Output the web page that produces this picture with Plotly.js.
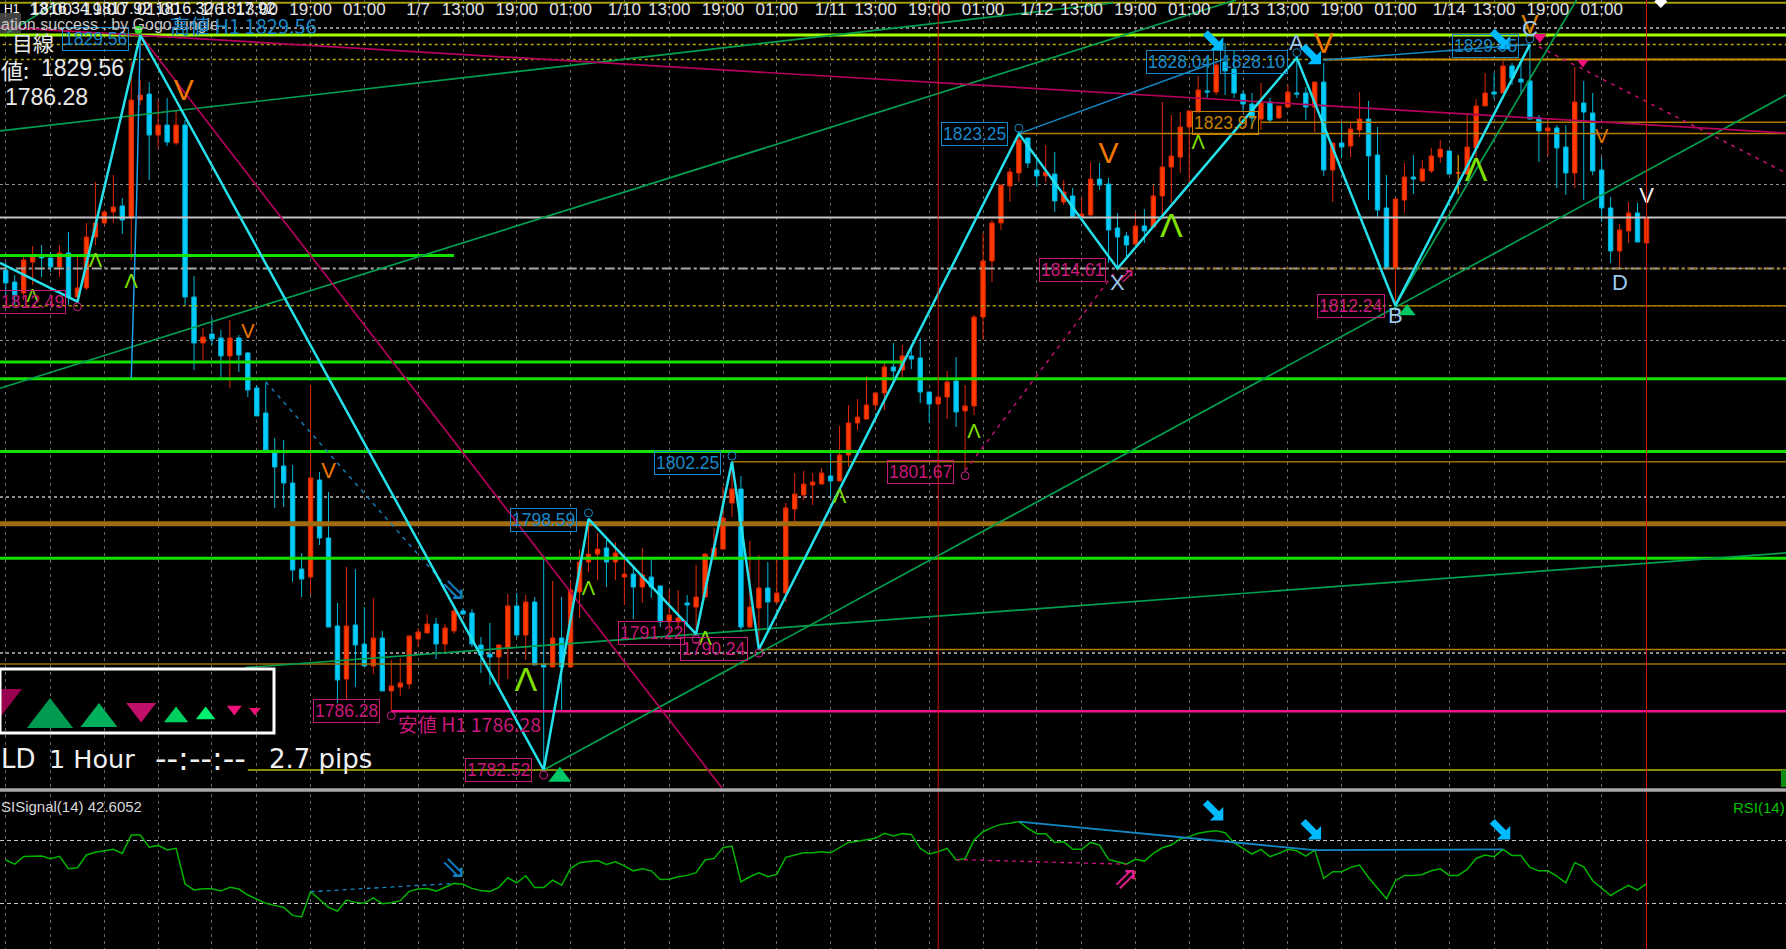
<!DOCTYPE html>
<html><head><meta charset="utf-8">
<script src="https://cdn.plot.ly/plotly-3.0.1.min.js"></script>
<style>html,body{margin:0;padding:0;background:#000;overflow:hidden}#c{width:1786px;height:949px}</style>
</head><body><div id="c"></div>
<script>
// ---------- candles (XAUUSD-style H1, index = bar number) ----------
const opens=[1814.52,1813.75,1813.05,1815.03,1815.42,1815.29,1814.71,1815.61,1812.79,1813.37,
1816.63,1817.53,1818.23,1818.62,1817.85,1825.4,1825.78,1823.16,1823.8,1822.65,
1823.8,1812.79,1809.85,1810.42,1810.17,1809.02,1810.17,1809.21,1806.97,1805.37,
1802.87,1801.98,1800.89,1795.38,1794.87,1801.08,1797.37,1791.74,1788.34,1791.8,
1790.58,1789.18,1790.97,1787.58,1787.83,1788.02,1790.9,1791.29,1791.86,1790.58,
1791.42,1792.7,1792.57,1790.52,1789.94,1789.75,1790.33,1793.02,1791.16,1793.27,
1789.3,1789.11,1790.97,1789.11,1793.91,1795.83,1796.34,1796.73,1795.83,1794.87,
1795.06,1794.23,1794.87,1794.3,1792.0,1792.0,1793.21,1792.95,1793.59,1796.15,
1796.66,1799.61,1800.5,1791.67,1792.89,1794.17,1793.27,1793.85,1799.22,1800.12,
1800.76,1800.82,1801.34,1801.02,1802.68,1804.73,1804.98,1805.88,1806.65,1808.31,
1808.12,1809.02,1808.89,1806.71,1805.94,1806.39,1807.42,1805.5,1805.82,1811.51,
1815.1,1817.53,1819.9,1820.73,1822.97,1820.92,1820.54,1820.66,1818.87,1819.26,
1817.91,1818.04,1820.34,1820.02,1817.21,1816.7,1816.18,1817.34,1817.27,1819.26,
1821.11,1821.75,1823.67,1824.63,1825.98,1825.91,1827.83,1827.38,1825.78,1825.14,
1824.18,1825.27,1824.25,1824.95,1825.85,1825.85,1824.95,1826.55,1820.92,1822.65,
1822.46,1823.48,1824.18,1821.88,1818.49,1814.65,1819.0,1820.47,1820.22,1820.86,
1821.75,1822.14,1820.73,1820.66,1822.33,1825.02,1825.91,1825.85,1827.58,1826.74,
1826.62,1824.25,1823.42,1823.61,1822.39,1820.73,1825.21,1824.57,1820.92,1818.49,
1815.74,1817.02,1818.17,1816.25];
const highs=[1815.03,1814.2,1815.48,1816.06,1816.12,1815.67,1816.12,1816.95,1815.48,1817.53,
1820.15,1818.36,1820.6,1819.13,1827.83,1826.68,1826.55,1825.4,1825.53,1824.7,
1824.12,1814.14,1810.81,1811.45,1810.68,1811.32,1810.36,1809.27,1807.16,1807.35,
1803.77,1803.64,1802.04,1796.41,1807.16,1801.59,1800.31,1793.21,1795.51,1795.38,
1792.95,1793.53,1791.42,1789.56,1789.69,1791.1,1791.61,1792.5,1792.25,1791.86,
1792.89,1792.89,1792.82,1791.03,1791.93,1790.58,1793.78,1793.85,1793.72,1793.59,
1796.09,1794.62,1793.59,1794.68,1796.66,1798.59,1797.69,1797.24,1797.11,1796.28,
1795.51,1796.73,1796.09,1794.3,1794.04,1794.04,1793.72,1795.64,1796.41,1798.01,
1800.63,1802.23,1801.34,1797.18,1796.28,1795.83,1795.96,1799.61,1801.53,1801.66,
1801.53,1801.85,1803.0,1804.54,1805.88,1806.26,1807.74,1806.71,1808.63,1809.85,
1809.72,1809.72,1810.17,1806.71,1806.39,1808.06,1808.95,1807.16,1811.64,1816.89,
1817.72,1819.96,1821.05,1823.29,1822.97,1821.75,1822.52,1822.07,1820.28,1819.77,
1819.19,1821.43,1821.37,1820.41,1818.17,1816.95,1818.17,1818.42,1819.96,1825.27,
1824.44,1824.63,1824.7,1826.94,1828.15,1827.83,1829.05,1828.6,1826.04,1825.85,
1826.49,1825.53,1825.02,1826.36,1828.1,1826.23,1826.55,1827.77,1822.65,1823.93,
1823.99,1825.91,1825.34,1823.67,1820.6,1819.06,1821.37,1821.88,1821.56,1822.33,
1822.84,1822.14,1821.88,1824.57,1825.46,1827.13,1827.13,1827.9,1827.77,1827.83,
1828.98,1824.44,1824.25,1823.8,1823.8,1827.51,1826.62,1825.85,1821.75,1819.19,
1817.46,1818.87,1818.81,1817.85];
const lows=[1812.92,1812.28,1812.6,1813.56,1814.07,1814.39,1814.07,1812.28,1812.6,1813.24,
1816.12,1817.4,1817.53,1816.82,1815.16,1825.08,1820.28,1822.33,1822.46,1822.52,
1812.28,1808.12,1808.7,1809.72,1807.67,1806.97,1807.99,1806.39,1805.18,1803.0,
1799.29,1799.35,1794.55,1793.59,1793.72,1796.92,1791.67,1786.81,1787.0,1787.83,
1789.18,1788.66,1787.58,1786.36,1787.26,1787.7,1790.39,1791.29,1789.62,1790.01,
1791.22,1792.44,1790.39,1788.73,1787.96,1787.83,1788.34,1790.97,1789.56,1789.24,
1782.52,1789.11,1786.36,1789.11,1792.25,1795.19,1794.68,1794.23,1794.68,1793.08,
1792.18,1793.21,1793.53,1791.67,1791.35,1791.48,1791.67,1791.35,1793.59,1796.15,
1796.6,1798.71,1791.35,1791.61,1790.24,1791.48,1793.27,1793.27,1798.33,1799.8,
1799.48,1800.82,1799.99,1801.02,1801.91,1804.28,1804.98,1805.56,1805.56,1807.35,
1807.48,1808.18,1806.01,1804.73,1805.94,1804.98,1804.47,1801.67,1805.24,1810.04,
1813.75,1817.08,1818.87,1820.15,1821.05,1819.83,1820.15,1818.23,1818.68,1817.91,
1817.91,1817.91,1819.64,1814.97,1814.65,1815.35,1816.12,1816.25,1817.27,1817.72,
1818.81,1820.73,1820.09,1824.63,1825.53,1825.72,1825.72,1825.53,1824.63,1823.67,
1823.48,1823.99,1824.18,1824.95,1825.53,1824.12,1823.35,1820.54,1818.87,1821.69,
1821.75,1823.03,1819.0,1817.85,1814.65,1812.24,1818.17,1819.38,1820.15,1820.73,
1821.37,1820.66,1819.38,1820.6,1821.69,1825.02,1825.46,1825.85,1826.36,1825.72,
1824.18,1821.43,1821.82,1819.77,1819.32,1819.77,1819.0,1820.6,1817.59,1814.97,
1814.58,1816.25,1816.31,1816.25];
const closes=[1813.69,1812.92,1815.16,1815.35,1815.29,1814.71,1815.61,1812.79,1813.37,1816.63,
1817.53,1818.23,1818.55,1817.72,1825.4,1825.72,1823.16,1823.8,1822.71,1823.8,
1812.79,1809.85,1810.23,1810.1,1809.02,1810.17,1809.08,1806.84,1805.18,1803.0,
1801.91,1800.89,1795.32,1794.74,1801.21,1797.37,1791.67,1788.28,1791.74,1790.52,
1789.18,1790.97,1787.58,1787.9,1788.09,1791.1,1791.35,1791.86,1790.58,1791.61,
1792.7,1792.5,1790.58,1789.88,1789.75,1790.52,1793.02,1791.16,1793.27,1789.24,
1789.11,1790.97,1789.11,1794.04,1795.83,1796.34,1796.66,1795.83,1796.41,1795.06,
1794.23,1795.0,1794.23,1792.0,1792.44,1792.25,1793.08,1793.59,1796.34,1796.73,
1798.65,1800.5,1791.67,1792.95,1794.17,1793.27,1793.85,1799.29,1800.18,1800.82,
1800.95,1801.53,1801.02,1802.68,1804.73,1805.11,1805.88,1806.65,1808.31,1808.06,
1809.02,1808.82,1806.71,1805.94,1806.39,1807.35,1805.43,1805.82,1811.51,1815.1,
1817.53,1819.96,1820.79,1822.84,1821.37,1820.54,1820.79,1818.94,1819.51,1817.91,
1818.1,1820.34,1819.96,1817.08,1816.63,1816.12,1817.34,1817.02,1819.26,1821.11,
1821.82,1823.67,1824.7,1826.04,1825.91,1827.64,1827.26,1825.85,1825.14,1824.25,
1825.21,1824.12,1825.02,1825.91,1825.78,1824.95,1826.55,1820.92,1822.65,1822.39,
1823.54,1824.18,1821.82,1818.36,1814.65,1819.06,1820.47,1820.34,1820.98,1821.82,
1822.26,1820.66,1820.73,1822.39,1825.02,1825.85,1825.78,1827.58,1826.81,1826.55,
1824.18,1823.42,1823.61,1822.33,1820.73,1825.27,1824.63,1820.86,1818.49,1815.74,
1817.08,1818.17,1816.31,1817.85];
// ---------- RSI(14) ----------
const rsi=[57.7,55.1,60.0,60.2,60.2,58.5,60.0,52.2,52.8,60.9,62.6,63.6,64.5,61.9,73.6,73.6,65.8,67.0,64.1,65.1,
42.4,38.6,39.4,39.4,37.9,40.3,39.2,35.4,32.8,30.1,28.8,27.5,22.4,21.4,37.5,32.2,27.5,25.2,32.2,30.7,
30.1,33.5,29.9,30.5,31.8,37.7,39.2,39.6,37.9,40.3,42.8,42.2,39.6,38.2,37.7,40.3,46.4,43.2,47.7,40.1,
40.1,44.9,41.6,52.4,56.0,56.8,57.3,54.9,56.6,54.0,50.8,52.1,50.8,45.3,45.5,47.0,47.9,49.6,57.7,58.7,
65.5,66.6,43.8,47.0,49.6,47.0,48.5,59.4,60.8,62.3,62.3,63.0,62.3,65.5,68.9,69.6,70.4,71.5,74.7,73.0,
74.5,74.0,65.1,61.5,63.0,65.1,57.7,58.5,70.4,75.7,78.3,80.4,81.1,82.1,77.9,74.5,74.5,68.9,69.4,64.5,
64.5,68.9,67.2,58.1,56.6,55.1,58.1,57.0,61.9,65.5,67.2,71.1,72.6,74.7,75.7,76.4,75.1,68.7,65.1,61.5,
64.5,59.8,61.9,64.5,63.6,60.2,64.0,46.0,50.2,50.2,53.0,54.5,46.6,39.6,33.0,44.5,47.9,47.9,48.5,50.8,
52.1,47.9,47.9,51.7,58.7,60.8,59.8,64.5,60.6,60.6,53.0,50.8,50.8,47.4,43.2,56.0,53.4,44.5,39.6,35.1,
38.5,41.5,38.5,42.6];
// ---------- time axis ----------
const tickBars=[5,11,17,23,28,34,40,46,51,57,63,69,74,80,86,92,97,103,109,115,120,126,132,138,143,149,155,161,166,172,178];
const tickLabels=["13:00","19:00","01:00","1/6","13:00","19:00","01:00","1/7","13:00","19:00","01:00","1/10","13:00","19:00","01:00","1/11","13:00","19:00","01:00","1/12","13:00","19:00","01:00","1/13","13:00","19:00","01:00","1/14","13:00","19:00","01:00"];
const extraGridBars=[0];
// ---------- horizontal levels ----------
const levelPrices=[1831.62,1829.56,1828.96,1828.0,1828.0,1823.97,1823.25,1817.88,1814.61,1814.61,1812.24,1812.24,1815.44,1808.63,1807.56,1802.9,1802.25,1798.28,1796.08,1790.24,1789.3,1786.28,1782.52];
const levelFrom=[-1,-1,-1,-1,147,140,113,-1,-1,124,-1,155,-1,-1,-1,-1,81,-1,-1,84,-1,43,27];
const levelTo=[199,199,199,199,199,199,199,199,199,199,199,199,50,100,199,199,199,199,199,199,199,199,199];
const levelColors=["#a0a000","#a4ff00","#b8a800","#b8a800","#cc8c00","#b07a00","#b87e00","#c4c4c4","#a8a8a8","#a06c00","#b0a000","#a07000","#14e000","#14e000","#14e000","#14e000","#a07000","#a06c10","#14e000","#b07a00","#a07000","#f0148c","#8a8a00"];
const levelWidths=[2,3,1.5,1.5,2,1.5,1.5,2,2,1.5,1.5,1.5,3,3,3,3,1.5,5,3,1.5,1.5,2.5,2];
const levelDashes=["solid","solid","3px,3px","3px,3px","solid","solid","solid","solid","10px,3px,3px,3px","3px,3px","3px,3px","solid","solid","solid","solid","solid","solid","solid","solid","solid","solid","solid","solid"];
// ---------- zigzag ----------
const zigBars=[-0.64,8,15,60,65,77,81,84,113,124,144,155,170];
const zigPrices=[1814.97,1812.49,1829.56,1782.52,1798.59,1791.22,1802.25,1790.24,1823.25,1814.61,1828.10,1812.24,1828.96];
// ---------- trend lines: [bar, price, bar, price] ----------
const greenLines=[[-0.64,1823.42,123.5,1831.61],[-0.64,1806.95,137.2,1831.8],[60,1782.52,198.56,1825.72],[26.7,1789.07,198.56,1796.41],[155,1812.24,175.2,1831.8],[0.14,1829.69,5.7,1831.6]];
const crimsonLines=[[-0.64,1830.07,198.56,1823.29],[15,1829.56,79.88,1781.37]];
const blueSolid=[[113,1823.25,136,1828.04],[147,1827.96,170,1828.96]];
const blueDashed=[[29,1807.37,50,1793.72]];
const pinkDashed=[[107,1801.67,124,1814.61],[171,1828.81,198.56,1820.73]];
const spikeBars=[15,14.6,14];
const spikePrices=[1829.56,1819.0,1807.6];
const rsiBlueSolid=[[113,82.1,146,64.0],[146,64.0,167,64.5]];
const rsiBlueDashed=[[34,37.5,50,42.8]];
const rsiPinkDashed=[[106,58,125,55]];
const rsiLevels=[70,30];
// ---------- signal glyphs ----------
const vBars=[19.85,27,36,123,147,170,178,183];
const vPrices=[1825.85,1810.5,1801.55,1821.88,1828.92,1830.09,1822.95,1819.13];
const vSizes=[30,20,22,30,30,26,20,22];
const vColors=["#f07800","#f07800","#f07800","#f07800","#f07800","#d88000","#e07800","#f0f0f0"];
const aBars=[3,10,14,65,58,78,93,108,130,133,164];
const aPrices=[1812.73,1815.03,1813.69,1794.04,1788.1,1790.84,1799.93,1804.11,1817.2,1822.58,1820.73];
const aSizes=[18,20,20,20,34,20,20,20,34,20,34];
const upBars=[61.8,156.3];
const upPrices=[1782.09,1811.86];
const upSizes=[20,15];
const downBars=[171.1,175.9];
const downPrices=[1829.43,1827.8];
const downSizes=[12,10];
const arrowBars=[135.3,146.2,167.3];
const arrowPrices=[1828.84,1827.98,1828.94];
const rsiArrowBars=[135.3,146.2,167.3];
const rsiArrowVals=[85.8,73.7,73.7];
const hollowBars=[50,125];
const hollowPrices=[1794.1,1814.2];
const rsiHollowBars=[50,125];
const rsiHollowVals=[53,47];
const pivotBlueBars=[113,81,65,144,170];
const pivotBluePrices=[1823.6,1802.62,1798.97,1828.43,1829.3];
const pivotPinkBars=[8,43,60,107,77,84];
const pivotPinkPrices=[1812.17,1786.0,1782.2,1801.35,1790.9,1790.0];
const dojiBar=[162,162]; const dojiRange=[1821.88,1819.38];
// ---------- legend triangles in the box ----------
const legendBars=[-0.64,4.94,10.4,15.1,19,22.3,25.5,27.8];
const legendPrices=[1787.1,1785.85,1785.78,1786.39,1785.91,1786.04,1786.42,1786.33];
const legendSizes=[38,40,32,26,21,17,13,10];
const legendColors=["#990050","#009a50","#00b05a","#c0106a","#00d060","#00f070","#f0107a","#f0107a"];
const legendSymbols=["triangle-down","triangle-up","triangle-up","triangle-down","triangle-up","triangle-up","triangle-down","triangle-down"];
// ---------- boxed price labels ----------
const labelTexts=["1829.56","1823.25","1802.25","1798.59","1828.04","1828.10","1829.05","1823.97","1812.49","1786.28","1782.52","1791.22","1790.24","1801.67","1814.61","1812.24"];
const labelBars=[10,108,76,60,131,139.2,165,136,3,38,55,72,79,102,119,150];
const labelPrices=[1829.3,1823.2,1802.2,1798.5,1827.85,1827.85,1828.85,1823.9,1812.5,1786.3,1782.5,1791.3,1790.25,1801.6,1814.5,1812.2];
const labelKinds=["b","b","b","b","b","b","b","o","p","p","p","p","p","p","p","p"];
const pointLetters=["A","B","C","D","X"];
const letterBars=[144,155,170,180,124];
const letterPrices=[1829.07,1811.64,1830,1813.69,1813.69];

const X0=-0.64,X1=198.56,W=1786,H=949;
const sx=x=>x/W, sy=y=>1-y/H;
const idx=opens.map((_,i)=>i);
const skip={hoverinfo:'skip',showlegend:false};
const traces=[];
traces.push(Object.assign({type:'candlestick',x:idx,open:opens,high:highs,low:lows,close:closes,
  increasing:{line:{color:'#e02800',width:1},fillcolor:'#ff3a00'},
  decreasing:{line:{color:'#00b8dc',width:1},fillcolor:'#00ccff'}},skip));
traces.push(Object.assign({type:'scatter',mode:'lines',x:dojiBar,y:dojiRange,line:{color:'#c8b000',width:1}},skip));
levelPrices.forEach((p,i)=>traces.push(Object.assign({type:'scatter',mode:'lines',x:[levelFrom[i],levelTo[i]],y:[p,p],
  line:{color:levelColors[i],width:levelWidths[i],dash:levelDashes[i]}},skip)));
const seg=(arr,color,width,dash,ya)=>arr.forEach(s=>traces.push(Object.assign({type:'scatter',mode:'lines',x:[s[0],s[2]],y:[s[1],s[3]],yaxis:ya||'y',
  line:{color,width,dash:dash||'solid'}},skip)));
seg(greenLines,'#00a050',1.7);
seg(crimsonLines,'#b4005c',1.7);
seg(blueSolid,'#1488c4',1.5);
seg(blueDashed,'#147ab0',1.5,'4px,5px');
seg(pinkDashed,'#c01070',1.5,'4px,5px');
traces.push(Object.assign({type:'scatter',mode:'lines',x:spikeBars,y:spikePrices,line:{color:'#1ea4ec',width:1.5}},skip));
traces.push(Object.assign({type:'scatter',mode:'lines',x:zigBars,y:zigPrices,line:{color:'#25e0ea',width:2.5}},skip));
// markers
const mk=(x,y,symbol,size,color,extra,ya)=>traces.push(Object.assign({type:'scatter',mode:'markers',x,y,yaxis:ya||'y',marker:Object.assign({symbol,size,color,opacity:1,line:{width:0}},extra||{})},skip));
mk(upBars,upPrices,'triangle-up',upSizes,'#00c864');
mk(downBars,downPrices,'triangle-down',downSizes,'#f0107a');
mk([14.8],[1829.9],'circle',8,'#30e030');
mk([184.6],[1831.7],'diamond',10,'#ffffff');
mk(pivotBlueBars,pivotBluePrices,'circle-open',8,'#1888c8',{line:{color:'#1888c8',width:1}});
mk(pivotPinkBars,pivotPinkPrices,'circle-open',8,'#d0208a',{line:{color:'#d0208a',width:1}});
// legend triangles
traces.push(Object.assign({type:'scatter',mode:'markers',x:legendBars,y:legendPrices,cliponaxis:false,
  marker:{symbol:legendSymbols,size:legendSizes,color:legendColors,opacity:1,line:{width:0}}},skip));
// chevrons
traces.push(Object.assign({type:'scatter',mode:'text',x:vBars,y:vPrices,text:vBars.map(()=>'V'),textposition:'middle center',
  textfont:{family:'Liberation Sans',size:vSizes,color:vColors}},skip));
traces.push(Object.assign({type:'scatter',mode:'text',x:aBars,y:aPrices,text:aBars.map(()=>'Λ'),textposition:'middle center',
  textfont:{family:'Liberation Sans',size:aSizes,color:'#80e000'}},skip));
// RSI pane
traces.push(Object.assign({type:'scatter',mode:'lines',x:idx,y:rsi,yaxis:'y2',line:{color:'#00b400',width:1.5}},skip));
seg(rsiBlueSolid,'#1488c4',1.8,null,'y2');
seg(rsiBlueDashed,'#1488c4',1.3,'4px,4px','y2');
seg(rsiPinkDashed,'#d01080',1.3,'4px,4px','y2');
// solid signal arrows: right-angled head plus a thick shaft
mk(arrowBars,arrowPrices,'triangle-se',15,'#00baff');
mk(rsiArrowBars,rsiArrowVals,'triangle-se',15,'#00baff',null,'y2');

const kindColor={b:'#1888c8',o:'#c88000',p:'#c8187a'};
const anns=[];
labelTexts.forEach((t,i)=>anns.push({x:labelBars[i],y:labelPrices[i],xref:'x',yref:'y',text:t,showarrow:false,xanchor:'center',yanchor:'middle',
  font:{family:'Liberation Sans',size:17.5,color:kindColor[labelKinds[i]]},bordercolor:kindColor[labelKinds[i]],borderwidth:1,borderpad:1}));
pointLetters.forEach((t,i)=>anns.push({x:letterBars[i],y:letterPrices[i],xref:'x',yref:'y',text:t,showarrow:false,
  font:{family:'Liberation Sans',size:22,color:'#9cc8ec'}}));
const shaft=(x,y,yref)=>anns.push({x,y,xref:'x',yref,text:'',showarrow:true,ax:-15,ay:-15,arrowhead:0,arrowwidth:7,arrowcolor:'#00baff',standoff:0});
arrowBars.forEach((b,i)=>shaft(b,arrowPrices[i],'y'));
rsiArrowBars.forEach((b,i)=>shaft(b,rsiArrowVals[i],'y2'));
const hollow=(x,y,yref,t,size,color)=>anns.push({x,y,xref:'x',yref,text:t,showarrow:false,xanchor:'center',yanchor:'middle',font:{family:'DejaVu Sans',size,color}});
hollow(hollowBars[0],hollowPrices[0],'y','⇘',31,'#1080c0');
hollow(hollowBars[1],hollowPrices[1],'y','⇗',20,'#e0208c');
hollow(rsiHollowBars[0],rsiHollowVals[0],'y2','⇘',31,'#1080c0');
hollow(rsiHollowBars[1],rsiHollowVals[1],'y2','⇗',31,'#e0208c');
const tx=(x,y,text,size,color,family,anchor)=>anns.push({x:sx(x),y:sy(y),xref:'paper',yref:'paper',text,showarrow:false,xanchor:anchor||'left',yanchor:'middle',
  font:{family:family||'Liberation Sans',size,color},borderpad:0});
tx(3,9,'H1',12,'#ffffff');
tx(30,9,'1816.34 1817.92 1816.32 1817.92',16,'#f0f0f0');
tx(0,24,'ation success : by GogoJungle',16,'#c8c8c8');
tx(318,25,'高値 H1 1829.56',20,'#1888c8','Noto Sans CJK JP','right');
tx(11,42,'目線',21,'#e8e8e8','Noto Sans CJK JP');
tx(0,69,'値:',22,'#e8e8e8','Noto Sans CJK JP');
tx(40,68,'1829.56',23,'#e8e8e8');
tx(4,97,'1786.28',23,'#e8e8e8');
tx(0,759,'LD',26,'#f0f0f0','DejaVu Sans');
tx(48,759,'1 Hour',25.5,'#f0f0f0','DejaVu Sans');
tx(154,759,'--:--:--',32,'#f0f0f0','DejaVu Sans');
tx(268,759,'2.7 pips',26,'#f0f0f0','DejaVu Sans');
tx(397,723,'安値 H1 1786.28',19.5,'#c8187a','Noto Sans CJK JP');
tx(0,806,'SISignal(14) 42.6052',15,'#d8d8d8');
tx(1786,807,'RSI(14)',15,'#00c000','Liberation Sans','right');

const vline=b=>({type:'line',xref:'x',yref:'paper',x0:b,x1:b,y0:0,y1:1,line:{color:'#d81400',width:1},layer:'above'});
const shapes=[vline(104),vline(183),
 {type:'line',xref:'paper',yref:'paper',x0:0,x1:1,y0:sy(790),y1:sy(790),line:{color:'#a8a8a8',width:3.5},layer:'above'},
 {type:'rect',xref:'paper',yref:'paper',x0:sx(0),x1:sx(274),y0:sy(669),y1:sy(733),line:{color:'#ffffff',width:3},fillcolor:'rgba(0,0,0,0)',layer:'above'},
 {type:'rect',xref:'paper',yref:'paper',x0:sx(1781),x1:1,y0:sy(770),y1:sy(787),line:{width:0},fillcolor:'#108a10',layer:'above'},
 {type:'rect',xref:'paper',yref:'paper',x0:0,x1:sx(21),y0:sy(13),y1:sy(33),line:{width:0},fillcolor:'rgba(120,120,120,.55)',layer:'above'}];

const layout={width:W,height:H,margin:{l:0,r:0,t:0,b:0,pad:0},paper_bgcolor:'#000',plot_bgcolor:'#000',showlegend:false,
 hovermode:false,dragmode:false,
 xaxis:{range:[X0,X1],side:'top',anchor:'y',tickmode:'array',tickvals:extraGridBars.concat(tickBars),ticktext:[""].concat(tickLabels),
   ticklabelposition:'inside',ticks:'',showline:false,zeroline:false,automargin:false,rangeslider:{visible:false},
   showgrid:true,gridcolor:'#666666',griddash:'3px,4px',gridwidth:1,tickangle:0,
   tickfont:{family:'Liberation Sans',size:17,color:'#e0e0e0'}},
 yaxis:{domain:[1-788/H,1],range:[1831.8-788*0.064,1831.8],dtick:10,tick0:1790,showgrid:true,gridcolor:'#8e8e8e',griddash:'3px,3px',gridwidth:1.5,
   showticklabels:false,zeroline:false,ticks:'',showline:false,automargin:false},
 yaxis2:{domain:[0,1-793.6/H],range:[1,100],tickmode:'array',tickvals:rsiLevels,showgrid:true,gridcolor:'#c8c8c8',griddash:'4px,3px',gridwidth:1.5,
   showticklabels:false,zeroline:false,ticks:'',showline:false,automargin:false},
 annotations:anns,shapes};
Plotly.newPlot('c',traces,layout,{displayModeBar:false,staticPlot:true});
</script></body></html>
